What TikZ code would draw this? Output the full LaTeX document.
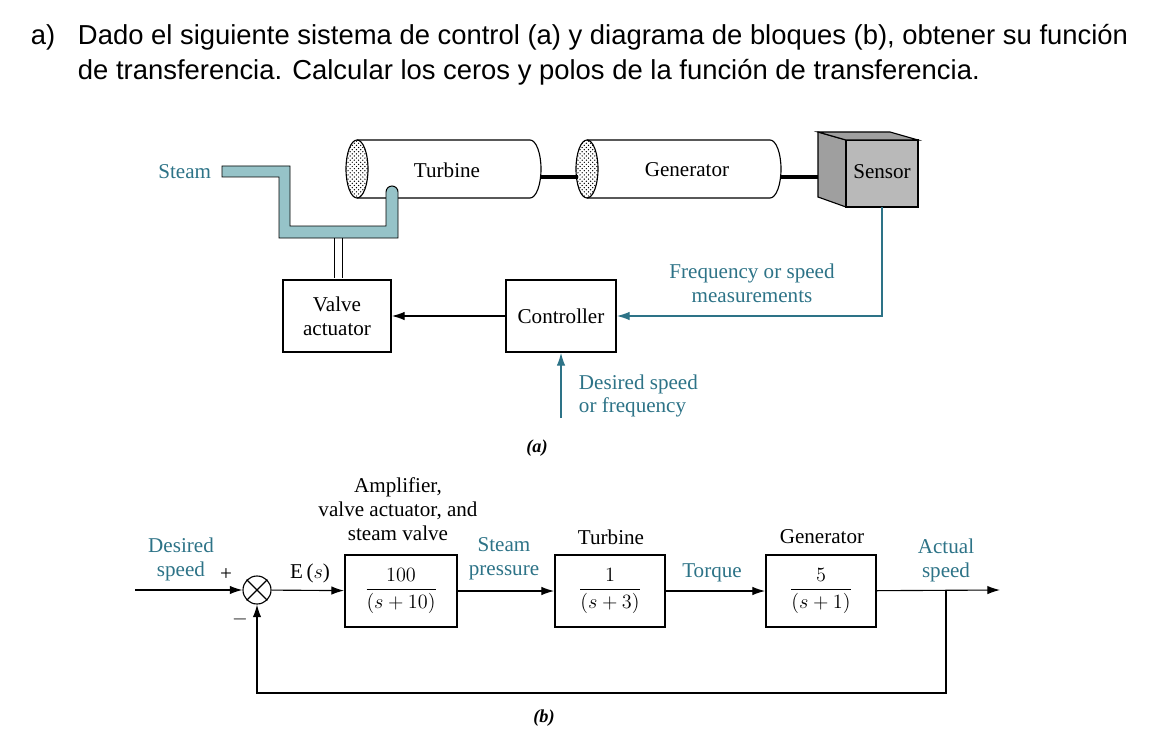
\documentclass[tikz,border=0pt]{standalone}
\usepackage{amsmath}
\usepackage{fontspec}
\setmainfont{Liberation Serif}
\newfontfamily\headfont{Liberation Sans}
\usetikzlibrary{arrows.meta,patterns}
\definecolor{teal1}{RGB}{45,115,135}
\definecolor{pipe}{RGB}{150,195,200}
\begin{document}
\begin{tikzpicture}[x=0.025cm,y=-0.025cm,
    blk/.style={draw,line width=1.3pt,minimum width=3.1cm,minimum height=1.8cm,align=center,font=\fontsize{15}{17}\selectfont},
    lbl/.style={align=center,font=\fontsize{15}{17}\selectfont},
    tlbl/.style={lbl,text=teal1},
    arr/.style={-{Latex[length=9pt,width=6pt]},line width=0.8pt},
    tarr/.style={arr,teal1}]
    \useasboundingbox (0,0) rectangle (1169,755);
    % Heading
    \node[anchor=west,font=\headfont\fontsize{19.5}{23}\selectfont] (qa) at (26,37) {a)};
    \node[anchor=west,font=\headfont\fontsize{19.5}{23}\selectfont] (q1) at (73,37) {Dado el siguiente sistema de control (a) y diagrama de bloques (b), obtener su funci\'on};
    \node[anchor=west,font=\headfont\fontsize{19.5}{23}\selectfont] (q2) at (73,72) {de transferencia. Calcular los ceros y polos de la funci\'on de transferencia.};
    % Turbine
    \draw[line width=0.8pt,fill=white] (357,140) -- (530,140) arc (-90:90:11 and 29) -- (357,198);
    \draw[line width=0.8pt,pattern=crosshatch dots] (357,169) ellipse (11 and 29);
    \node[lbl] (turb) at (447,170) {Turbine};
    % Generator
    \draw[line width=0.8pt,fill=white] (587,140) -- (770,140) arc (-90:90:11 and 29) -- (587,198);
    \draw[line width=0.8pt,pattern=crosshatch dots] (587,169) ellipse (11 and 29);
    \node[lbl] (gen) at (687,170) {Generator};
    % Steam pipe
    \draw[line width=0.7pt,fill=pipe] (222,166) -- (290,166) -- (290,226) -- (386,226) -- (386,192)
        arc (180:360:6) -- (398,238) -- (279,238) -- (279,177) -- (222,177) -- cycle;
    \node[tlbl,anchor=east] (steam) at (216,172) {Steam};
    % Shafts
    \draw[line width=3.5pt] (541,177) -- (578,177);
    \draw[line width=3.5pt] (781,177) -- (846,177);
    % Sensor
    \draw[line width=0.8pt,fill=gray!75] (818,132) -- (846,140) -- (846,207) -- (818,197) -- cycle;
    \draw[line width=0.8pt,fill=gray!55] (846,140) rectangle (918,207);
    \draw[line width=0.8pt,fill=gray!75] (818,132) -- (890,132) -- (918,140) -- (846,140) -- cycle;
    \node[lbl] (sens) at (882,172) {Sensor};
    % Valve stem
    \draw[line width=0.7pt] (334,238) -- (334,278);
    \draw[line width=0.7pt] (342,238) -- (342,278);
    % Blocks (a)
    \node[blk,minimum width=2.7cm] (valve) at (337,316) {Valve\\actuator};
    \node[blk,minimum width=2.75cm] (ctrl) at (561,316) {Controller};
    \draw[arr] (ctrl) -- (valve);
    \coordinate (sdown) at (882,316);
    \draw[tarr] (sens.center |- 0,207) -- (sdown) -- (ctrl);
    \node[tlbl] (fmeas) at (752,283) {Frequency or speed\\measurements};
    \coordinate (dsin) at (561,418);
    \draw[tarr] (dsin) -- (ctrl);
    \node[tlbl,align=left,anchor=west] (dsp) at (574,396) {Desired speed\\or frequency};
    \node[lbl,font=\bfseries\itshape\fontsize{13}{15}\selectfont] (capa) at (537,448) {(a)};
    % Block diagram (b)
    \coordinate (in) at (135,590);
    \node[draw,circle,line width=0.8pt,minimum size=0.7cm,inner sep=0pt] (sum) at (257,590) {};
    \draw[line width=0.8pt] (sum.north west) -- (sum.south east) (sum.north east) -- (sum.south west);
    \node[blk,minimum width=2.8cm] (amp) at (401,591) {$\dfrac{100}{(s+10)}$};
    \node[blk,minimum width=2.75cm] (tb) at (610,591) {$\dfrac{1}{(s+3)}$};
    \node[blk,minimum width=2.75cm] (gn) at (821,591) {$\dfrac{5}{(s+1)}$};
    \coordinate (out) at (1000,590);
    \coordinate (tap) at (946,590);
    \coordinate (fbl) at (946,693);
    \coordinate (fbr) at (257,693);
    \draw[arr] (in) -- (sum);
    \draw[arr] (sum) -- (amp);
    \draw[arr] (amp) -- (tb);
    \draw[arr] (tb) -- (gn);
    \draw[arr] (gn) -- (out);
    \draw[arr] (tap) -- (fbl) -- (fbr) -- (sum);
    \node[tlbl] (dspd) at (181,559) {Desired\\speed};
    \node[lbl] (plus) at (226,575) {+};
    \node[lbl] (minus) at (240,619) {$-$};
    \node[lbl] (es) at (310,573) {E\,($s$)};
    \node[lbl] (ampl) at (398,509) {Amplifier,\\valve actuator, and\\steam valve};
    \node[tlbl] (stp) at (504,559) {Steam\\pressure};
    \node[lbl] (tbl) at (611,537) {Turbine};
    \node[tlbl] (trq) at (712,573) {Torque};
    \node[lbl] (gnl) at (822,537) {Generator};
    \node[tlbl] (act) at (946,560) {Actual\\speed};
    \node[lbl,font=\bfseries\itshape\fontsize{13}{15}\selectfont] (capb) at (544,718) {(b)};
\end{tikzpicture}
\end{document}
